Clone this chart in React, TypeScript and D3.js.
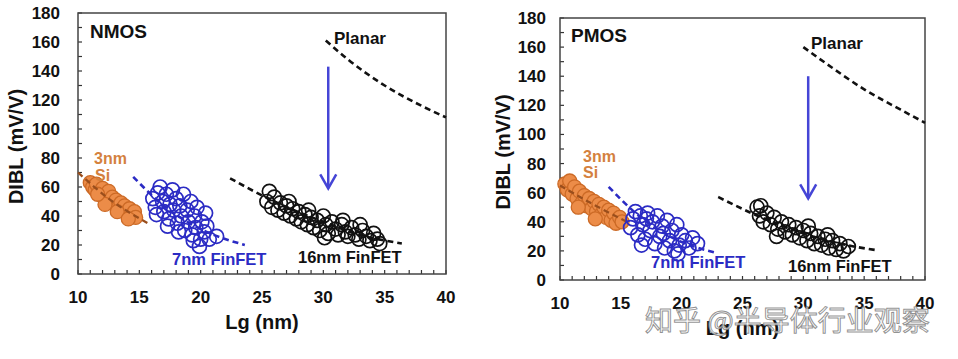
import React from 'react'
import * as d3 from 'd3'

// x ticks (Lg, nm) and y ticks (DIBL, mV/V)
const xTicks = [10, 15, 20, 25, 30, 35, 40]
const yTicks = [0, 20, 40, 60, 80, 100, 120, 140, 160, 180]

// NMOS
const nmosSi: [number, number][] = [
  [11.0, 63], [11.2, 60], [11.4, 58], [11.5, 62], [11.8, 56], [12.0, 59], [12.1, 54],
  [12.3, 52], [12.5, 57], [12.6, 50], [12.8, 53], [13.0, 48], [13.1, 51], [13.3, 46],
  [13.5, 49], [13.6, 44], [13.8, 47], [14.0, 42], [14.2, 45], [14.4, 40], [14.6, 43],
  [14.7, 39], [12.2, 48], [13.2, 43], [11.6, 55], [14.1, 38]
]
const nmos7: [number, number][] = [
  [16.1, 52], [16.3, 46], [16.5, 56], [16.7, 60], [16.9, 50], [17.0, 43], [17.2, 55],
  [17.4, 38], [17.5, 48], [17.7, 58], [17.8, 44], [18.0, 52], [18.1, 35], [18.3, 47],
  [18.4, 40], [18.6, 55], [18.7, 30], [18.9, 44], [19.0, 36], [19.2, 50], [19.3, 27],
  [19.5, 40], [19.6, 32], [19.7, 46], [19.9, 19], [20.0, 24], [20.1, 36], [20.3, 29],
  [20.5, 33], [20.7, 24], [21.3, 26], [16.4, 41], [17.3, 33], [18.2, 29], [19.4, 23], [20.4, 42]
]
const nmos16: [number, number][] = [
  [25.4, 50], [25.6, 57], [25.8, 46], [26.0, 53], [26.3, 44], [26.5, 49], [26.8, 42],
  [27.0, 47], [27.3, 40], [27.5, 45], [27.8, 38], [28.0, 43], [28.2, 36], [28.5, 41],
  [28.7, 34], [29.0, 39], [29.2, 32], [29.5, 37], [29.7, 30], [30.0, 40], [30.2, 34],
  [30.4, 28], [30.7, 36], [31.0, 31], [31.2, 27], [31.5, 34], [31.8, 29], [32.0, 26],
  [32.3, 32], [32.6, 27], [32.9, 24], [33.2, 30], [33.5, 26], [33.8, 23], [34.1, 28],
  [34.4, 24], [34.6, 21], [27.2, 50], [28.8, 44], [30.1, 25], [31.6, 37], [33.0, 34]
]
const nmosFitSi: [number, number][] = [[10.0, 70], [12.5, 52], [15.7, 35]]
const nmosFit7: [number, number][] = [[14.5, 67], [17, 47], [20, 31], [23.6, 20]]
const nmosFit16: [number, number][] = [[22.4, 66], [26, 50], [30, 36], [33, 27], [36.4, 21]]
const nmosPlanar: [number, number][] = [[30.2, 161], [32, 148], [35, 130], [38, 116], [40, 108]]

// PMOS
const pmosSi: [number, number][] = [
  [10.4, 66], [10.6, 62], [10.8, 68], [11.0, 59], [11.2, 64], [11.4, 56], [11.6, 61],
  [11.8, 53], [12.0, 58], [12.2, 51], [12.4, 56], [12.6, 49], [12.8, 54], [13.0, 47],
  [13.2, 52], [13.4, 45], [13.6, 50], [13.8, 43], [14.0, 48], [14.2, 41], [14.4, 46],
  [14.6, 39], [14.9, 43], [15.1, 40], [11.5, 50], [12.9, 42]
]
const pmos7: [number, number][] = [
  [15.8, 36], [16.0, 42], [16.2, 47], [16.4, 31], [16.6, 44], [16.8, 38], [17.0, 28],
  [17.2, 46], [17.4, 34], [17.6, 40], [17.8, 25], [18.0, 44], [18.2, 30], [18.4, 37],
  [18.6, 22], [18.8, 41], [19.0, 27], [19.2, 34], [19.4, 20], [19.6, 38], [19.8, 24],
  [20.0, 31], [20.3, 27], [20.6, 22], [20.9, 29], [21.3, 25], [17.1, 42], [18.5, 32],
  [19.7, 18], [16.7, 24]
]
const pmos16: [number, number][] = [
  [26.2, 50], [26.5, 51], [26.4, 44], [26.7, 40], [27.0, 46], [27.3, 38], [27.6, 43],
  [27.9, 35], [28.2, 40], [28.5, 33], [28.8, 38], [29.1, 31], [29.4, 36], [29.7, 29],
  [30.0, 34], [30.3, 27], [30.6, 32], [30.9, 25], [31.2, 30], [31.5, 24], [31.8, 28],
  [32.1, 22], [32.4, 27], [32.7, 21], [33.0, 25], [33.3, 20], [33.7, 23], [30.4, 37],
  [27.8, 30], [32.0, 31]
]
const pmosFitSi: [number, number][] = [[10.0, 65], [12.5, 53], [15.5, 40]]
const pmosFit7: [number, number][] = [[14.0, 64], [16.5, 44], [19.5, 28], [22.7, 19]]
const pmosFit16: [number, number][] = [[23.0, 57], [26, 45], [30, 32], [33, 25], [36.0, 20.5]]
const pmosPlanar: [number, number][] = [[30.0, 160], [32, 148], [35, 131], [38, 117], [40, 108]]

const ORANGE_FILL = '#ec8c48'
const ORANGE_STROKE = '#cc6a26'
const ORANGE_LINE = '#9a4e1c'
const ORANGE_TEXT = '#d4813e'
const BLUE = '#2b2bc4'
const ARROW = '#4545d6'
const FONT = 'Liberation Sans, Arial, sans-serif'

type Label = { text: string, x: number, y: number, color: string, size: number }

type PanelProps = {
  xr: [number, number]
  yr: [number, number]
  si: [number, number][]
  fin7: [number, number][]
  fin16: [number, number][]
  fitSi: [number, number][]
  fit7: [number, number][]
  fit16: [number, number][]
  planar: [number, number][]
  arrow: [number, number, number]
  labels: Label[]
  yTickGap: number
  yTitleX: number
}

function Panel({ xr, yr, si, fin7, fin16, fitSi, fit7, fit16, planar, arrow, labels, yTickGap, yTitleX }: PanelProps) {
  const x = d3.scaleLinear().domain([10, 40]).range(xr)
  const y = d3.scaleLinear().domain([0, 180]).range(yr)
  const line = d3.line<[number, number]>().x(d => x(d[0])).y(d => y(d[1])).curve(d3.curveMonotoneX)
  const r = 7
  const dash = '6,4'
  const ax = x(arrow[0])
  const a0 = y(arrow[1])
  const a1 = y(arrow[2])
  return (
    <g>
      {/* minor ticks */}
      {d3.range(10, 41, 1).map(v => (
        <line key={'xt' + v} x1={x(v)} x2={x(v)} y1={yr[0]} y2={yr[0] - 4} stroke="#333" strokeWidth={1.2} />
      ))}
      {d3.range(0, 181, 10).map(v => (
        <line key={'yt' + v} x1={xr[0]} x2={xr[0] + 4} y1={y(v)} y2={y(v)} stroke="#333" strokeWidth={1.2} />
      ))}
      <rect x={xr[0]} y={yr[1]} width={xr[1] - xr[0]} height={yr[0] - yr[1]} fill="none" stroke="#444" strokeWidth={1.5} />
      {xTicks.map(v => (
        <text key={'xl' + v} x={x(v)} y={yr[0] + 29} textAnchor="middle" fontSize={17} fontWeight="bold" fontFamily={FONT} fill="#111">{v}</text>
      ))}
      {yTicks.map(v => (
        <text key={'yl' + v} x={xr[0] - yTickGap} y={y(v) + 6} textAnchor="end" fontSize={17} fontWeight="bold" fontFamily={FONT} fill="#111">{v}</text>
      ))}
      <text x={(xr[0] + xr[1]) / 2} y={yr[0] + 55} textAnchor="middle" fontSize={20} fontWeight="bold" fontFamily={FONT} fill="#111">Lg (nm)</text>
      <text transform={`translate(${yTitleX},${(yr[0] + yr[1]) / 2 + 3}) rotate(-90)`} textAnchor="middle" dy={7} fontSize={20} fontWeight="bold" fontFamily={FONT} fill="#111">DIBL (mV/V)</text>

      {/* data */}
      {si.map((d, i) => (
        <circle key={'s' + i} cx={x(d[0])} cy={y(d[1])} r={r} fill={ORANGE_FILL} stroke={ORANGE_STROKE} strokeWidth={1.3} />
      ))}
      <path d={line(fitSi) || ''} fill="none" stroke={ORANGE_LINE} strokeWidth={2.3} strokeDasharray={dash} />
      {fin7.map((d, i) => (
        <circle key={'b' + i} cx={x(d[0])} cy={y(d[1])} r={r} fill="none" stroke={BLUE} strokeWidth={1.7} />
      ))}
      <path d={line(fit7) || ''} fill="none" stroke={BLUE} strokeWidth={2.6} strokeDasharray={dash} />
      {fin16.map((d, i) => (
        <circle key={'k' + i} cx={x(d[0])} cy={y(d[1])} r={r} fill="none" stroke="#111" strokeWidth={1.7} />
      ))}
      <path d={line(fit16) || ''} fill="none" stroke="#111" strokeWidth={2.6} strokeDasharray={dash} />
      <path d={line(planar) || ''} fill="none" stroke="#111" strokeWidth={2.6} strokeDasharray={dash} />

      {/* arrow */}
      <line x1={ax} x2={ax} y1={a0} y2={a1} stroke={ARROW} strokeWidth={2.5} />
      <path d={`M${ax - 8},${a1 - 14}L${ax},${a1}L${ax + 8},${a1 - 14}`} fill="none" stroke={ARROW} strokeWidth={2.5} />

      {labels.map((l, i) => (
        <text key={'l' + i} x={l.x} y={l.y} fontSize={l.size} fontWeight="bold" fontFamily={FONT} fill={l.color}>{l.text}</text>
      ))}
    </g>
  )
}

export default function App() {
  return (
    <svg width={958} height={359} style={{ position: 'absolute', left: 0, top: 0, background: '#fff' }}>
      <rect width={958} height={359} fill="#fff" />
      <Panel
        xr={[78, 446]} yr={[274, 13]}
        si={nmosSi} fin7={nmos7} fin16={nmos16}
        fitSi={nmosFitSi} fit7={nmosFit7} fit16={nmosFit16} planar={nmosPlanar}
        arrow={[30.4, 143, 59]}
        yTickGap={18} yTitleX={16}
        labels={[
          { text: 'NMOS', x: 90, y: 38, color: '#111', size: 19 },
          { text: 'Planar', x: 334, y: 44, color: '#111', size: 17 },
          { text: '3nm', x: 94, y: 164, color: ORANGE_TEXT, size: 16 },
          { text: 'Si', x: 95, y: 181, color: ORANGE_TEXT, size: 16 },
          { text: '7nm FinFET', x: 172, y: 265, color: BLUE, size: 16.5 },
          { text: '16nm FinFET', x: 298, y: 263, color: '#111', size: 16.5 }
        ]}
      />
      <Panel
        xr={[560, 925]} yr={[280, 18]}
        si={pmosSi} fin7={pmos7} fin16={pmos16}
        fitSi={pmosFitSi} fit7={pmosFit7} fit16={pmosFit16} planar={pmosPlanar}
        arrow={[30.4, 140, 56]}
        yTickGap={14} yTitleX={503}
        labels={[
          { text: 'PMOS', x: 571, y: 42, color: '#111', size: 19 },
          { text: 'Planar', x: 811, y: 49, color: '#111', size: 17 },
          { text: '3nm', x: 583, y: 162, color: ORANGE_TEXT, size: 16 },
          { text: 'Si', x: 583, y: 178, color: ORANGE_TEXT, size: 16 },
          { text: '7nm FinFET', x: 651, y: 268, color: BLUE, size: 16.5 },
          { text: '16nm FinFET', x: 788, y: 272, color: '#111', size: 16.5 }
        ]}
      />
      <text x={645} y={331} fontSize={28} fontFamily="Noto Sans CJK SC, sans-serif" fill="rgba(255,255,255,0.75)" stroke="rgba(110,110,110,0.75)" strokeWidth={1}>知乎 @半导体行业观察</text>
    </svg>
  )
}
